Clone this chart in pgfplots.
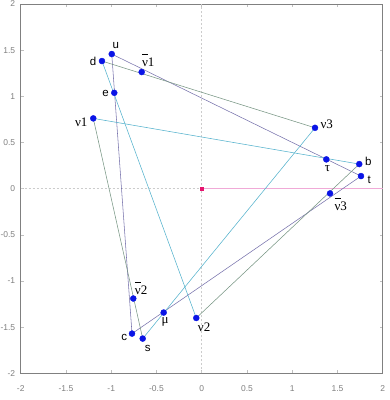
\documentclass[border=0pt]{standalone}
\usepackage{pgfplots}
\pgfplotsset{compat=1.18}
\usepackage{fontspec}
\setmainfont{Liberation Sans}
\newfontfamily\serif{Liberation Serif}
\definecolor{lcyan}{RGB}{85,178,205}
\definecolor{lpurp}{RGB}{120,115,172}
\definecolor{lgreen}{RGB}{120,150,132}
\definecolor{dotblue}{RGB}{10,20,230}
\definecolor{pinkline}{RGB}{240,170,215}
\definecolor{redpt}{RGB}{230,20,110}
\newcommand\slab{\fontsize{11.5}{13}\selectfont}
\newcommand\glab{\serif\fontsize{13}{15}\selectfont}
\newcommand\nb{\leavevmode\rlap{\raisebox{11.5pt}{\rule{6pt}{0.6pt}}}ν}
\begin{document}
\begin{tikzpicture}
\begin{axis}[name=ax, at={(0,0)}, anchor=south west,
  scale only axis, width=362pt, height=369.3pt,
  xmin=-2, xmax=2, ymin=-2, ymax=2,
  xtick={-2,-1.5,-1,-0.5,0,0.5,1,1.5,2},
  ytick={-2,-1.5,-1,-0.5,0,0.5,1,1.5,2},
  xticklabels={-2,-1.5,-1,-0.5,0,0.5,1,1.5,2},
  yticklabels={-2,-1.5,-1,-0.5,0,0.5,1,1.5,2},
  tick align=inside, tick pos=both,
  major tick length=3pt,
  tick style={gray!50, line width=0.6pt},
  axis line style={gray, line width=0.8pt},
  ticklabel style={font=\fontsize{8.5}{10}\selectfont, text=gray},
  xticklabel style={yshift=-9pt},
  yticklabel style={xshift=-2pt},
]
% zero lines
\addplot[gray!40, dash pattern=on 2pt off 2pt, line width=0.5pt] coordinates {(0,-2) (0,2)};
\addplot[gray!40, dash pattern=on 2pt off 2pt, line width=0.5pt] coordinates {(-2,0) (2,0)};
\addplot[pinkline, line width=0.8pt] coordinates {(0,0) (2,0)};
% purple triangle u, c, t
\addplot[lpurp, line width=0.55pt] coordinates {(-0.994,1.458) (-0.770,-1.570) (1.760,0.136) (-0.994,1.458)};
% cyan lines
\addplot[lcyan, line width=0.55pt] coordinates {(-1.102,1.382) (-0.060,-1.401)};
\addplot[lcyan, line width=0.55pt] coordinates {(-0.652,-1.624) (1.252,0.659)};
\addplot[lcyan, line width=0.55pt] coordinates {(-1.198,0.761) (1.741,0.266)};
% green lines
\addplot[lgreen, line width=0.55pt] coordinates {(-1.102,1.382) (1.252,0.659)};
\addplot[lgreen, line width=0.55pt] coordinates {(-1.198,0.761) (-0.652,-1.624)};
\addplot[lgreen, line width=0.55pt] coordinates {(-0.060,-1.401) (1.741,0.266)};
% origin
\addplot[only marks, mark=square*, mark size=1.8pt, color=redpt] coordinates {(0,0)};
% points
\addplot[only marks, mark=*, mark size=3pt, color=dotblue] coordinates {
(-0.994,1.458) (-1.102,1.382) (-0.663,1.263) (-0.966,1.038) (-1.198,0.761)
(1.252,0.659) (1.377,0.317) (1.741,0.266) (1.760,0.136) (1.418,-0.052)
(-0.756,-1.190) (-0.420,-1.342) (-0.060,-1.401) (-0.770,-1.570) (-0.652,-1.624)};
% labels
\node[anchor=base, font=\slab, xshift=4pt, yshift=5.7pt] at (axis cs:-0.994,1.458) {u};
\node[anchor=base, font=\slab, xshift=-9pt, yshift=-4pt] at (axis cs:-1.102,1.382) {d};
\node[anchor=base, font=\glab, xshift=6.6pt, yshift=6pt] at (axis cs:-0.663,1.263) {\nb 1};
\node[anchor=base, font=\slab, xshift=-8.8pt, yshift=-3.3pt] at (axis cs:-0.966,1.038) {e};
\node[anchor=base, font=\glab, xshift=-12pt, yshift=-7.7pt] at (axis cs:-1.198,0.761) {ν1};
\node[anchor=base, font=\glab, xshift=11.7pt, yshift=-0.3pt] at (axis cs:1.252,0.659) {ν3};
\node[anchor=base, font=\glab, xshift=1.2pt, yshift=-11.7pt] at (axis cs:1.377,0.317) {τ};
\node[anchor=base, font=\slab, xshift=9pt, yshift=-1pt] at (axis cs:1.741,0.266) {b};
\node[anchor=base, font=\slab, xshift=8.2pt, yshift=-7.3pt] at (axis cs:1.760,0.136) {t};
\node[anchor=base, font=\glab, xshift=10.7pt, yshift=-16.7pt] at (axis cs:1.418,-0.052) {\nb 3};
\node[anchor=base, font=\glab, xshift=7.9pt, yshift=4.3pt] at (axis cs:-0.756,-1.190) {\nb 2};
\node[anchor=base, font=\glab, xshift=1.3pt, yshift=-11pt] at (axis cs:-0.420,-1.342) {μ};
\node[anchor=base, font=\glab, xshift=7.9pt, yshift=-13.3pt] at (axis cs:-0.060,-1.401) {ν2};
\node[anchor=base, font=\slab, xshift=-7.7pt, yshift=-7.4pt] at (axis cs:-0.770,-1.570) {c};
\node[anchor=base, font=\slab, xshift=5.1pt, yshift=-12.7pt] at (axis cs:-0.652,-1.624) {s};
\end{axis}
\pgfresetboundingbox
\path ([xshift=-20.7pt,yshift=-26.7pt]ax.south west) rectangle ([xshift=6.3pt,yshift=4pt]ax.north east);
\end{tikzpicture}
\end{document}
